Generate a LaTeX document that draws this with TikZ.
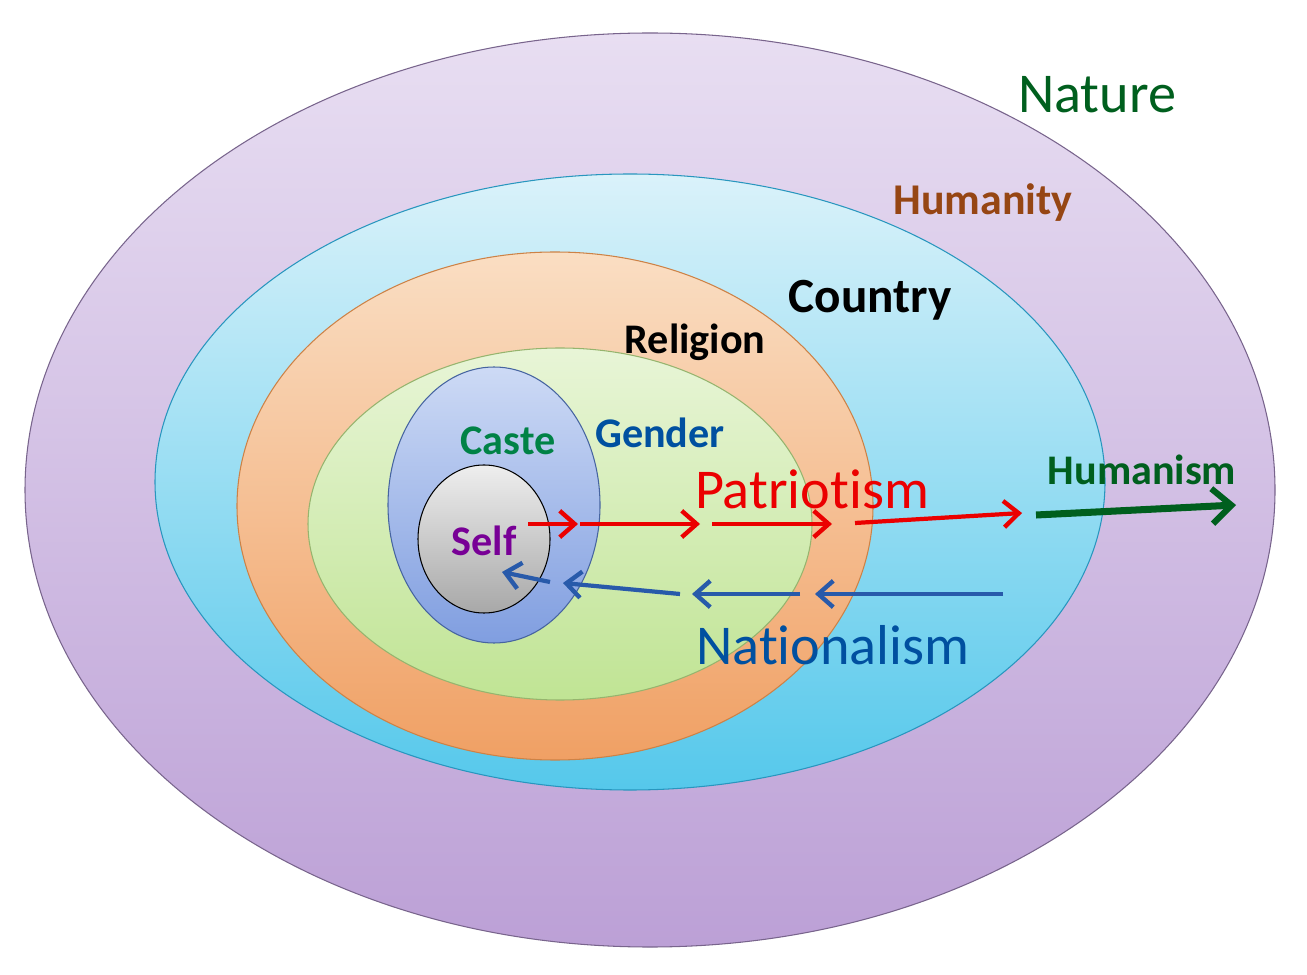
\documentclass[tikz,border=0pt]{standalone}
\usepackage{fontspec}
\setmainfont{Carlito}[Ligatures=CommonOff]
\usepackage{tikz}
\usetikzlibrary{arrows.meta}
\usepackage{xcolor}
\definecolor{natgreen}{RGB}{0,95,30}
\definecolor{humbrown}{RGB}{150,70,20}
\definecolor{castegreen}{RGB}{0,130,70}
\definecolor{genblue}{RGB}{0,80,160}
\definecolor{selfpurple}{RGB}{120,0,150}
\definecolor{patred}{RGB}{235,0,0}
\definecolor{natblue}{RGB}{40,90,170}

\begin{document}
\begin{tikzpicture}[x=0.02cm, y=0.02cm,
		ring/.style={line width=0.6pt},
		lbl/.style={inner sep=0pt, font=\bfseries\fontsize{24}{24}\selectfont},
		big/.style={inner sep=0pt, font=\fontsize{32}{32}\selectfont},
		patr/.style={patred, line width=2.4pt, -{Straight Barb[length=8.5pt, width=15pt, line width=2.5pt]}},
		natl/.style={natblue, line width=2.4pt, -{Straight Barb[length=8.5pt, width=15pt, line width=2.5pt]}}]
			\useasboundingbox (0,0) rectangle (1307,974);
			\fill[white] (0,0) rectangle (1307,974);
			% 椭圆
			\shade[ring, draw={rgb,255:red,120;green,100;blue,140}, top color={rgb,255:red,232;green,222;blue,242}, bottom color={rgb,255:red,188;green,160;blue,214}] (650,484) ellipse [x radius=625, y radius=457];
			\shade[ring, draw={rgb,255:red,40;green,150;blue,190}, top color={rgb,255:red,218;green,242;blue,250}, bottom color={rgb,255:red,85;green,200;blue,235}] (630,492) ellipse [x radius=475, y radius=308];
			\shade[ring, draw={rgb,255:red,205;green,130;blue,70}, top color={rgb,255:red,250;green,222;blue,195}, bottom color={rgb,255:red,240;green,160;blue,100}] (555,468) ellipse [x radius=318, y radius=254];
			\shade[ring, draw={rgb,255:red,150;green,180;blue,110}, top color={rgb,255:red,232;green,245;blue,215}, bottom color={rgb,255:red,192;green,228;blue,148}] (560,450) ellipse [x radius=252, y radius=176];
			\shade[ring, draw={rgb,255:red,70;green,100;blue,160}, top color={rgb,255:red,205;green,218;blue,245}, bottom color={rgb,255:red,128;green,158;blue,224}] (494,469) ellipse [x radius=106, y radius=138];
			\shade[ring, draw=black, top color={rgb,255:red,238;green,238;blue,238}, bottom color={rgb,255:red,168;green,168;blue,168}] (484,435) ellipse [x radius=66, y radius=74];
			% 标签
			\node[big, natgreen] (nature) at (1097,879) {Nature};
			\node[lbl, humbrown, font=\bfseries\fontsize{25}{25}\selectfont] (humanity) at (983,771) {Humanity};
			\node[lbl, black, font=\bfseries\fontsize{28}{28}\selectfont] (country) at (870,674) {Country};
			\node[lbl, black] (religion) at (695,632) {Religion};
			\node[lbl, castegreen] (caste) at (508,533) {Caste};
			\node[lbl, genblue] (gender) at (660,541) {Gender};
			\node[lbl, selfpurple] (self) at (484,433) {Self};
			\node[big, patred] (patriotism) at (812,485) {Patriotism};
			\node[big, genblue] (nationalism) at (833,329) {Nationalism};
			\node[lbl, natgreen] (humanism) at (1142,504) {Humanism};
			% 箭头端点
			\coordinate (p0) at (528,450);
			\coordinate (p1) at (578,450);
			\coordinate (p2) at (580,450);
			\coordinate (p3) at (700,450);
			\coordinate (p4) at (712,450);
			\coordinate (p5) at (832,450);
			\coordinate (p6) at (855,451);
			\coordinate (p7) at (1022,461);
			\coordinate (h0) at (1036,459);
			\coordinate (h1) at (1236,469);
			\coordinate (n0) at (1003,380);
			\coordinate (n1) at (815,380);
			\coordinate (n2) at (800,380);
			\coordinate (n3) at (692,380);
			\coordinate (n4) at (680,380);
			\coordinate (n5) at (563,391);
			\coordinate (n6) at (550,392);
			\coordinate (n7) at (502,402);
			% 爱国主义
			\draw[patr] (p0) -- (p1);
			\draw[patr] (p2) -- (p3);
			\draw[patr] (p4) -- (p5);
			\draw[patr] (p6) -- (p7);
			% 人文主义
			\draw[natgreen, line width=4pt, -{Straight Barb[length=11pt, width=20pt, line width=3.5pt]}] (h0) -- (h1);
			% 民族主义
			\draw[natl] (n0) -- (n1);
			\draw[natl] (n2) -- (n3);
			\draw[natl] (n4) -- (n5);
			\draw[natl] (n6) -- (n7);
		\end{tikzpicture}
\end{document}
